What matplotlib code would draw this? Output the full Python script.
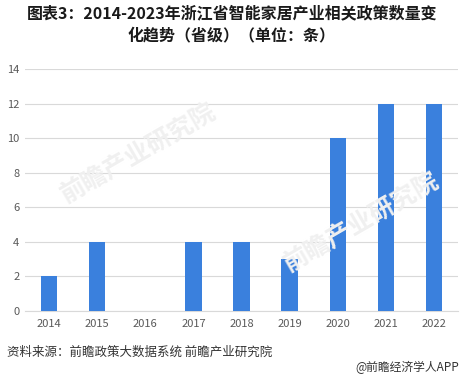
import matplotlib
matplotlib.use("Agg")
import matplotlib.pyplot as plt

plt.rcParams['font.family'] = ['Noto Sans CJK SC', 'DejaVu Sans']

years = ["2014", "2015", "2016", "2017", "2018", "2019", "2020", "2021", "2022"]
counts = [2, 4, 0, 4, 4, 3, 10, 12, 12]
yticks = [0, 2, 4, 6, 8, 10, 12, 14]

title = "图表3：2014-2023年浙江省智能家居产业相关政策数量变\n化趋势（省级）（单位：条）"
source = "资料来源：前瞻政策大数据系统 前瞻产业研究院"
brand = "@前瞻经济学人APP"

fig = plt.figure(figsize=(4.64, 3.85), dpi=100)
ax = fig.add_axes([0.054, 0.192, 0.933, 0.629])

# faint watermark
fig.text(0.30, 0.60, "前瞻产业研究院", fontsize=18, color="#f0f0f0", rotation=30,
         ha="center", va="center", fontweight="bold", zorder=0)
fig.text(0.78, 0.42, "前瞻产业研究院", fontsize=18, color="#f0f0f0", rotation=30,
         ha="center", va="center", fontweight="bold", zorder=0)
ax.set_facecolor("none")

x = list(range(len(years)))
ax.bar(x, counts, width=0.34, color="#3a80dd", zorder=3)
ax.set_xlim(-0.5, len(years) - 0.5)
ax.set_ylim(0, 14)
ax.set_yticks(yticks)
ax.set_xticks(x)
ax.set_xticklabels(years)
ax.grid(axis="y", color="#d9d9d9", linewidth=0.8, zorder=0)
for s in ["top", "right", "left"]:
    ax.spines[s].set_visible(False)
ax.spines["bottom"].set_color("#d9d9d9")
ax.tick_params(axis="both", length=0, colors="#595959", labelsize=8)
ax.tick_params(axis="x", pad=6)
ax.tick_params(axis="y", pad=4)

fig.text(0.5, 0.985, title, ha="center", va="top", fontsize=11.5, fontweight="bold",
         color="#1a1a1a", linespacing=1.45)
fig.text(0.015, 0.085, source, ha="left", va="center", fontsize=9, color="#333333")
fig.text(0.99, 0.045, brand, ha="right", va="center", fontsize=8.5, color="#333333")

fig.savefig("out.png", dpi=100)
